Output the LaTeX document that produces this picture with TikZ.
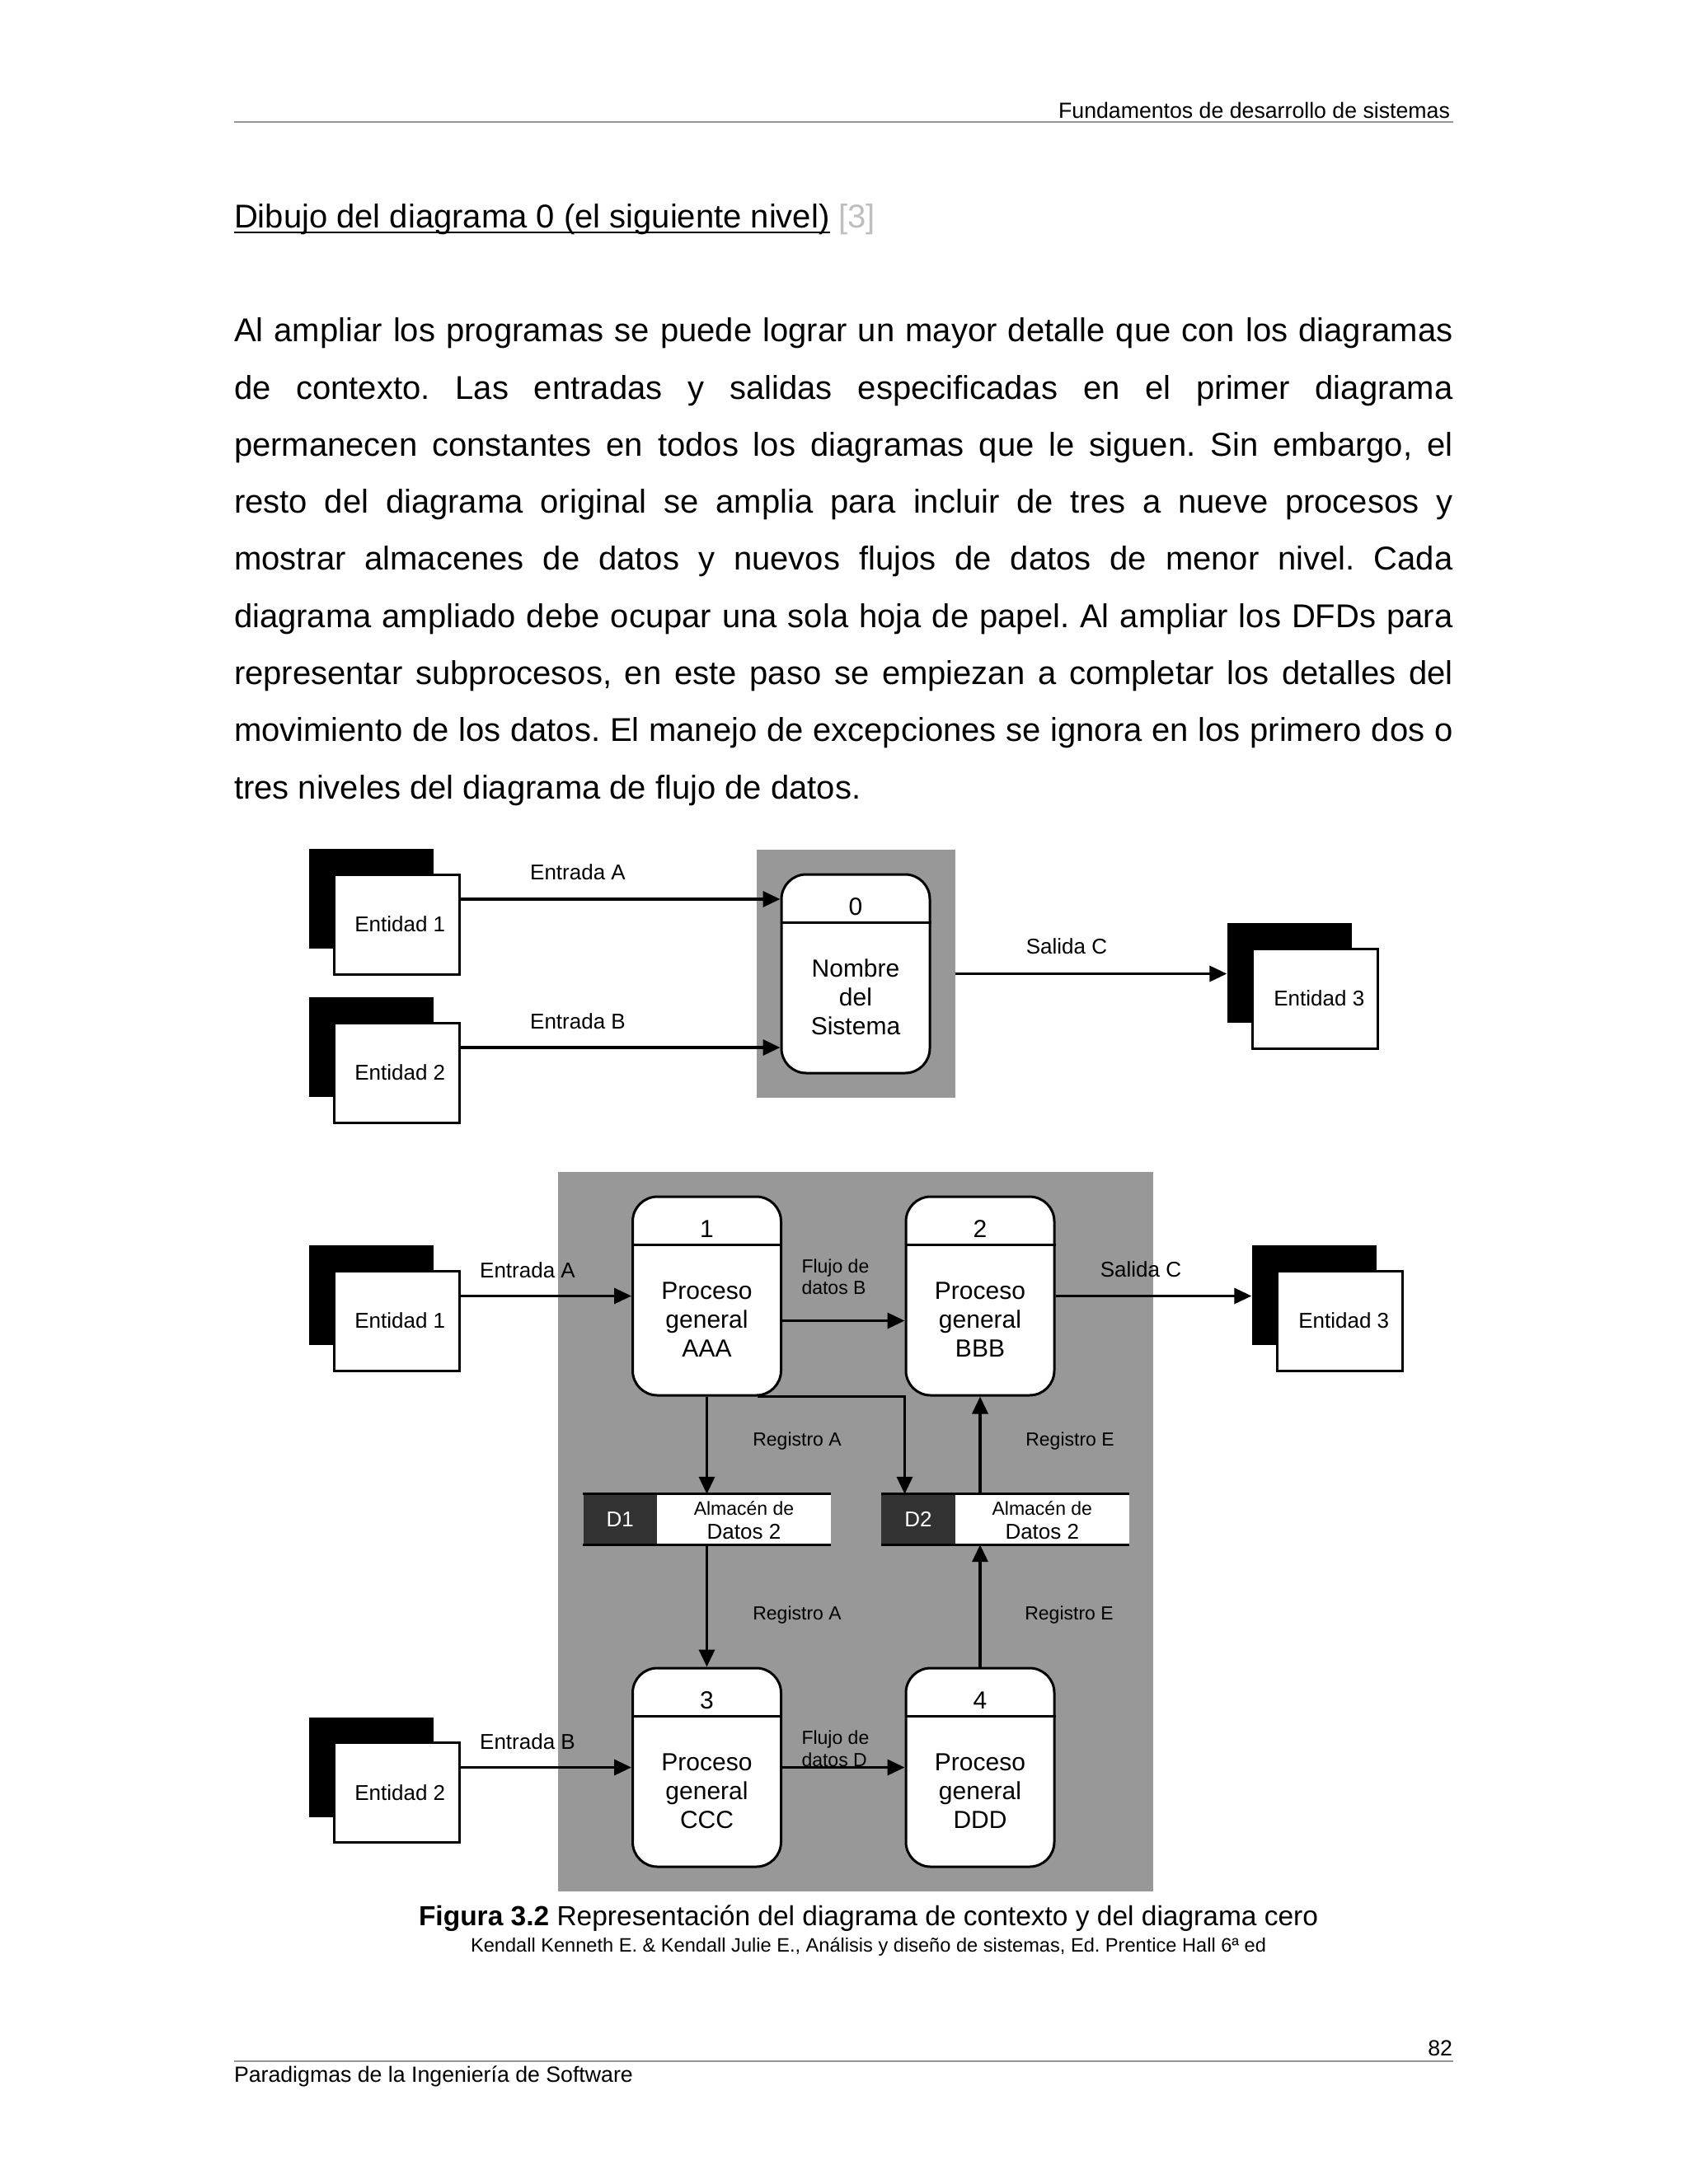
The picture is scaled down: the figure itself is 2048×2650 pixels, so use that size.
\documentclass[tikz,border=0pt]{standalone}
\usepackage{fontspec}
\setmainfont{Liberation Sans}
\usetikzlibrary{arrows.meta}
\definecolor{panel}{RGB}{152,152,152}
\definecolor{storedark}{RGB}{50,50,50}
\definecolor{rulegray}{RGB}{150,150,150}
\definecolor{refgray}{RGB}{190,190,190}
\newcommand\myfs[2]{\fontsize{#1}{#2}\selectfont}
\frenchspacing
\begin{document}
\frenchspacing
\begin{tikzpicture}[x=1pt,y=-1pt,
  txt/.style={inner sep=0pt, outer sep=0pt},
  para/.style={txt, anchor=base west, font=\myfs{40}{48}},
  hdr/.style={txt, font=\myfs{26.7}{32}},
  panelbox/.style={fill=panel, draw=none, inner sep=0pt},
  shade/.style={fill=black, draw=none, minimum width=151.5pt, minimum height=121pt, inner sep=0pt},
  ent/.style={draw=black, line width=3pt, fill=white, minimum width=151.5pt, minimum height=121pt, inner sep=0pt, font=\myfs{26}{31}},
  enttext/.style={txt, font=\myfs{26}{31}, text height=18.6pt, text depth=0pt},
  proc/.style={draw=black, line width=3pt, fill=white, rounded corners=30pt, minimum width=180pt, minimum height=241pt, inner sep=0pt},
  pnum/.style={txt, font=\myfs{30}{35}, text height=21.5pt, text depth=0pt},
  ptext/.style={txt, font=\myfs{30}{35}, align=center},
  lbl/.style={txt, font=\myfs{26}{31}, text height=18.6pt, text depth=0pt},
  slbl/.style={txt, font=\myfs{23}{27}, text height=16.5pt, text depth=0pt},
  flbl/.style={txt, font=\myfs{23}{26.7}, align=left, anchor=west},
  flow/.style={line width=3.5pt, -{Triangle[length=21pt,width=19pt]}},
  dark/.style={fill=storedark, minimum width=89.5pt, minimum height=61pt, inner sep=0pt, text=white, font=\myfs{26}{31}},
  light/.style={fill=white, minimum width=211pt, minimum height=61pt, inner sep=0pt},
  storeline/.style={line width=3pt},
  divider/.style={line width=3pt}
]
\fill[white] (0,0) rectangle (2048,2650);
\useasboundingbox (0,0) rectangle (2048,2650);

% header
\node[hdr, anchor=base east] (hd) at (1759,143) {Fundamentos de desarrollo de sistemas};
\draw[rulegray, line width=2pt] (284,147.5) -- (1763,147.5);

% title
\node[txt, anchor=base west, font=\myfs{40}{48}] (title) at (284,276) {Dibujo del diagrama 0 (el siguiente nivel)};
\draw[line width=2.5pt] ([shift={(0,6)}]title.base west) -- ([shift={(0,6)}]title.base east);
\node[txt, anchor=base west, font=\myfs{40}{48}, text=refgray] (ref) at ([shift={(11,0)}]title.base east) {[3]};

% paragraph
\node[para] (l1) at (284,414.8) {\makebox[1478.6pt][s]{Al ampliar los programas se puede lograr un mayor detalle que con los diagramas}};
\node[para] (l2) at (284,484.1) {\makebox[1478.6pt][s]{de contexto. Las entradas y salidas especificadas en el primer diagrama}};
\node[para] (l3) at (284,553.4) {\makebox[1478.6pt][s]{permanecen constantes en todos los diagramas que le siguen. Sin embargo, el}};
\node[para] (l4) at (284,622.6) {\makebox[1478.6pt][s]{resto del diagrama original se amplia para incluir de tres a nueve procesos y}};
\node[para] (l5) at (284,691.9) {\makebox[1478.6pt][s]{mostrar almacenes de datos y nuevos flujos de datos de menor nivel. Cada}};
\node[para] (l6) at (284,761.2) {\makebox[1478.6pt][s]{diagrama ampliado debe ocupar una sola hoja de papel. Al ampliar los DFDs para}};
\node[para] (l7) at (284,830.5) {\makebox[1478.6pt][s]{representar subprocesos, en este paso se empiezan a completar los detalles del}};
\node[para] (l8) at (284,899.8) {\makebox[1478.6pt][s]{movimiento de los datos. El manejo de excepciones se ignora en los primero dos o}};
\node[para] (l9) at (284,969.0) {tres niveles del diagrama de flujo de datos.};

% ===== context diagram =====
\node[panelbox, minimum width=241pt, minimum height=301pt] (g0) at (1038.5,1181.5) {};
\node[proc] (p0) at (1038,1181.5) {};
\draw[divider] ([shift={(0,60)}]p0.north west) -- ([shift={(0,60)}]p0.north east);
\node[pnum] at ([shift={(0,40)}]p0.north) {0};
\node[ptext] at ([shift={(0,150)}]p0.north) {Nombre\\del\\Sistema};

\node[shade] (s1) at (450.25,1090.5) {};
\node[ent] (e1) at (481.25,1121.5) {};
\node[enttext] at ([shift={(4,0)}]e1.center) {Entidad 1};
\node[shade] (s2) at (450.25,1270.5) {};
\node[ent] (e2) at (481.25,1301.5) {};
\node[enttext] at ([shift={(4,0)}]e2.center) {Entidad 2};
\node[shade] (s3) at (1564.3,1180.5) {};
\node[ent] (e3) at (1595.3,1211.5) {};
\node[enttext] at ([shift={(5,0)}]e3.center) {Entidad 3};

\draw[flow] ([shift={(0,-30.5)}]e1.east) -- ([shift={(0,-30.5)}]e1.east -| p0.west);
\draw[flow] ([shift={(0,-30.5)}]e2.east) -- ([shift={(0,-30.5)}]e2.east -| p0.west);
\draw[flow] (g0.east) -- (g0.east -| s3.west);

\node[lbl] at (701,1058) {Entrada A};
\node[lbl] at (701,1239) {Entrada B};
\node[lbl] at (1294,1148) {Salida C};

% ===== level 0 diagram =====
\node[panelbox, minimum width=722pt, minimum height=873pt] (g1) at (1038,1858.5) {};

\node[proc] (p1) at (857.5,1572.5) {};
\node[proc] (p2) at (1189,1572.5) {};
\node[proc] (p3) at (857.5,2144.5) {};
\node[proc] (p4) at (1189,2144.5) {};
\draw[divider] ([shift={(0,60)}]p1.north west) -- ([shift={(0,60)}]p1.north east);
\draw[divider] ([shift={(0,60)}]p2.north west) -- ([shift={(0,60)}]p2.north east);
\draw[divider] ([shift={(0,60)}]p3.north west) -- ([shift={(0,60)}]p3.north east);
\draw[divider] ([shift={(0,60)}]p4.north west) -- ([shift={(0,60)}]p4.north east);
\node[pnum] at ([shift={(0,40)}]p1.north) {1};
\node[pnum] at ([shift={(0,40)}]p2.north) {2};
\node[pnum] at ([shift={(0,40)}]p3.north) {3};
\node[pnum] at ([shift={(0,40)}]p4.north) {4};
\node[ptext] at ([shift={(0,151)}]p1.north) {Proceso\\general\\AAA};
\node[ptext] at ([shift={(0,151)}]p2.north) {Proceso\\general\\BBB};
\node[ptext] at ([shift={(0,151)}]p3.north) {Proceso\\general\\CCC};
\node[ptext] at ([shift={(0,151)}]p4.north) {Proceso\\general\\DDD};

\node[shade] (sb1) at (450.25,1571.5) {};
\node[ent] (eb1) at (481.25,1602.5) {};
\node[enttext] at ([shift={(4,0)}]eb1.center) {Entidad 1};
\node[shade] (sb2) at (450.25,2144) {};
\node[ent] (eb2) at (481.25,2175) {};
\node[enttext] at ([shift={(4,0)}]eb2.center) {Entidad 2};
\node[shade] (sb3) at (1594.25,1571.5) {};
\node[ent] (eb3) at (1625.25,1602.5) {};
\node[enttext] at ([shift={(5,0)}]eb3.center) {Entidad 3};

% data stores
\node[dark] (d1k) at (752.25,1843.5) {D1};
\node[light] (d1w) at (902.5,1843.5) {};
\node[dark] (d2k) at (1114,1843.5) {D2};
\node[light] (d2w) at (1264.3,1843.5) {};
\draw[storeline] (d1k.north west) -- (d1w.north east);
\draw[storeline] (d1k.south west) -- (d1w.south east);
\draw[storeline] (d2k.north west) -- (d2w.north east);
\draw[storeline] (d2k.south west) -- (d2w.south east);
\node[slbl] at (902.5,1830) {Almacén de};
\node[lbl] at (902.5,1858.3) {Datos 2};
\node[slbl] at (1264.3,1830) {Almacén de};
\node[lbl] at (1264.3,1858.3) {Datos 2};

% flows
\draw[flow] ([shift={(0,-30)}]eb1.east) -- ([shift={(0,-30)}]eb1.east -| p1.west);
\draw[flow] ([shift={(0,-30.5)}]eb2.east) -- ([shift={(0,-30.5)}]eb2.east -| p3.west);
\draw[flow] ([shift={(0,30)}]p1.east) -- ([shift={(0,30)}]p1.east -| p2.west);
\draw[flow] (p2.east) -- (p2.east -| sb3.west);
\draw[flow] (p1.south) -- (p1.south |- d1w.north);
\draw[flow] ([shift={(61,0)}]p1.south) -| (p2.west |- d2k.north);
\draw[flow] (d2w.north -| p2.south) -- (p2.south);
\draw[flow] (p3.north |- d1w.south) -- (p3.north);
\draw[flow] (p4.north) -- (p4.north |- d2w.south);
\draw[flow] (p3.east) -- (p4.west);

\node[lbl] at (640,1541) {Entrada A};
\node[lbl] at (640,2112.7) {Entrada B};
\node[lbl] at (1384,1540) {Salida C};
\node[slbl] at (967,1746.7) {Registro A};
\node[slbl] at (1298,1746.7) {Registro E};
\node[slbl] at (967,1957.7) {Registro A};
\node[slbl] at (1297,1957.7) {Registro E};
\node[flbl] at (972.5,1549.3) {Flujo de\\datos B};
\node[flbl] at (972.5,2121.5) {Flujo de\\datos D};

% caption
\node[txt, anchor=base, font=\myfs{33.5}{40}] (cap) at (1053.6,2336) {\textbf{Figura 3.2} Representación del diagrama de contexto y del diagrama cero};
\node[txt, anchor=base, font=\myfs{23.6}{28}] (src) at (1053.6,2368) {Kendall Kenneth E. \& Kendall Julie E., Análisis y diseño de sistemas, Ed. Prentice Hall 6ª ed};

% footer
\node[hdr, anchor=base east] (pg) at (1762,2494) {82};
\draw[rulegray, line width=2pt] (284,2501) -- (1763,2501);
\node[hdr, anchor=base west] (ft) at (284,2526) {Paradigmas de la Ingeniería de Software};
\end{tikzpicture}
\end{document}
